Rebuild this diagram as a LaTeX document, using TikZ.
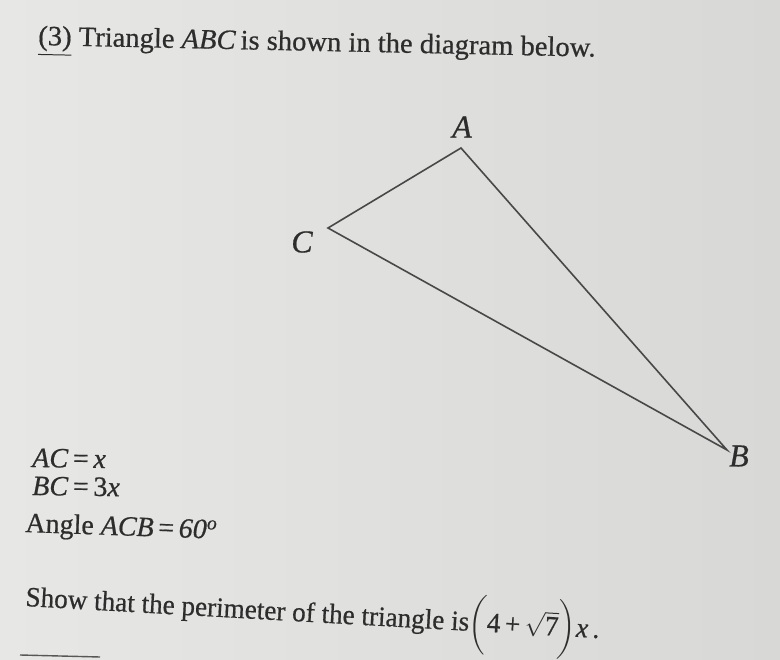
\documentclass[tikz,border=0pt]{standalone}
\usepackage{amsmath}
\usepackage{fontspec}
\setmainfont{Liberation Serif}
\newfontfamily\heavyserif[FakeBold=0.6]{Liberation Serif}
\definecolor{ink}{RGB}{45,45,45}
\definecolor{lineink}{RGB}{72,72,72}
\definecolor{bgl}{RGB}{231,231,229}
\definecolor{bgr}{RGB}{216,216,214}
\tikzset{
  txt/.style={anchor=base west, inner sep=0pt, text=ink, font=\heavyserif\fontsize{28}{32}\selectfont},
  vlabel/.style={inner sep=0pt, text=ink, font=\heavyserif\fontsize{32}{36}\selectfont\itshape},
  side/.style={draw=lineink, line width=1.6pt, line join=miter}
}
\begin{document}
\begin{tikzpicture}[x=1pt,y=-1pt]
\useasboundingbox (0,0) rectangle (780,660);
\shade[left color=bgl, right color=bgr] (0,0) rectangle (780,660);
% title
\node[txt, rotate=-1.2, xscale=1.02] (title) at (38,45) {\underline{(3)} Triangle \textit{ABC}\,is shown in the diagram below.};
% triangle
\coordinate (A) at (461,148);
\coordinate (C) at (328,228);
\coordinate (B) at (727,450);
\draw[side] (A) -- (C) -- (B) -- cycle;
\node[vlabel] (la) at (462,127) {A};
\node[vlabel] (lc) at (302,242) {C};
\node[vlabel] (lb) at (739,456) {B};
% data
\node[txt, rotate=-0.8] (ac) at (32,467) {\textit{AC}\,=\,\textit{x}};
\node[txt, rotate=-0.8] (bc) at (32,495) {\textit{BC}\,=\,3\textit{x}};
\node[txt, rotate=-2] (ang) at (25,532) {Angle \textit{ACB}\,=\,\textit{60}\textsuperscript{\textit{o}}};
% question
\node[txt, rotate=-3.2, xscale=0.97] (q) at (25,606) {Show that the perimeter of the triangle is$\biggl($4\,+\,$\sqrt{\mbox{7}}\biggr)$\textit{x}\,.};
% page rule fragment
\coordinate (r1) at (20,655);
\coordinate (r2) at (100,657);
\draw[draw=ink!80, line width=1.4pt] (r1) -- (r2);
\end{tikzpicture}
\end{document}
